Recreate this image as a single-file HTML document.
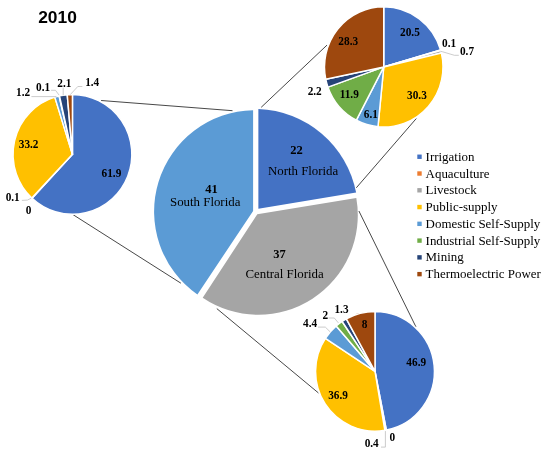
<!DOCTYPE html>
<html><head><meta charset="utf-8"><title>2010</title>
<style>
html,body{margin:0;padding:0;background:#fff;}
body{width:550px;height:454px;overflow:hidden;position:relative;}
svg{position:absolute;left:0;top:0;display:block;}
.b{font-family:"Liberation Serif",serif;font-weight:bold;font-size:11.3px;fill:#000;}
.r{font-family:"Liberation Serif",serif;font-size:12.85px;fill:#000;}
.l{font-family:"Liberation Serif",serif;font-size:12.95px;fill:#000;}
.g{font-family:"Liberation Serif",serif;font-weight:bold;font-size:12.5px;fill:#000;}
.t{font-family:"Liberation Sans",sans-serif;font-weight:bold;font-size:17.4px;fill:#000;}
</style></head><body>
<svg width="550" height="454" viewBox="0 0 550 454">
<text x="38.2" y="23.4" class="t">2010</text>
<path d="M258.4 208.7L258.4 109.1A103.46 103.46 0 0 1 356.1 192.6Z" fill="#4472C4"/>
<path d="M257.3 214.2L356.3 198.1A99.5 99.5 0 0 1 202.7 297.8Z" fill="#A5A5A5"/>
<path d="M253.1 210.9L197.4 294.5A101.28 101.28 0 0 1 253.1 110.2Z" fill="#5B9BD5"/>
<line x1="101.1" y1="100.5" x2="232.5" y2="110.7" stroke="#484848" stroke-width="1"/>
<line x1="73.1" y1="214.7" x2="180.9" y2="283.2" stroke="#484848" stroke-width="1"/>
<line x1="216.8" y1="308.6" x2="318.5" y2="393.0" stroke="#484848" stroke-width="1"/>
<line x1="261.2" y1="107.3" x2="327.0" y2="45.1" stroke="#484848" stroke-width="1"/>
<line x1="356.3" y1="187.8" x2="416.3" y2="118.5" stroke="#484848" stroke-width="1"/>
<line x1="358.9" y1="211" x2="416.0" y2="327.0" stroke="#484848" stroke-width="1"/>
<g transform="translate(72.45,154.35) scale(0.9917,1) translate(-72.45,-154.35)">
<path d="M72.45 154.35L72.45 94.45A59.90 59.90 0 1 1 31.72 198.27Z" fill="#4472C4" stroke="#fff" stroke-width="1.5" stroke-linejoin="round"/>
<path d="M72.45 154.35L31.72 198.27A59.90 59.90 0 0 1 31.45 198.02Z" fill="#A5A5A5" stroke="#fff" stroke-width="1.5" stroke-linejoin="round"/>
<path d="M72.45 154.35L31.45 198.02A59.90 59.90 0 0 1 54.66 97.15Z" fill="#FFC000" stroke="#fff" stroke-width="1.5" stroke-linejoin="round"/>
<path d="M72.45 154.35L54.66 97.15A59.90 59.90 0 0 1 59.02 95.98Z" fill="#5B9BD5" stroke="#fff" stroke-width="1.5" stroke-linejoin="round"/>
<path d="M72.45 154.35L59.02 95.98A59.90 59.90 0 0 1 59.38 95.89Z" fill="#70AD47" stroke="#fff" stroke-width="1.5" stroke-linejoin="round"/>
<path d="M72.45 154.35L59.38 95.89A59.90 59.90 0 0 1 67.19 94.68Z" fill="#264478" stroke="#fff" stroke-width="1.5" stroke-linejoin="round"/>
<path d="M72.45 154.35L67.19 94.68A59.90 59.90 0 0 1 72.45 94.45Z" fill="#9E480E" stroke="#fff" stroke-width="1.5" stroke-linejoin="round"/>
</g>
<g transform="translate(383.75,66.9) scale(0.9859,1) translate(-383.75,-66.9)">
<path d="M383.75 66.90L383.75 6.80A60.10 60.10 0 0 1 441.44 50.06Z" fill="#4472C4" stroke="#fff" stroke-width="1.5" stroke-linejoin="round"/>
<path d="M383.75 66.90L441.44 50.06A60.10 60.10 0 0 1 441.55 50.42Z" fill="#ED7D31" stroke="#fff" stroke-width="1.5" stroke-linejoin="round"/>
<path d="M383.75 66.90L441.55 50.42A60.10 60.10 0 0 1 442.21 52.98Z" fill="#A5A5A5" stroke="#fff" stroke-width="1.5" stroke-linejoin="round"/>
<path d="M383.75 66.90L442.21 52.98A60.10 60.10 0 0 1 377.91 126.72Z" fill="#FFC000" stroke="#fff" stroke-width="1.5" stroke-linejoin="round"/>
<path d="M383.75 66.90L377.91 126.72A60.10 60.10 0 0 1 355.99 120.20Z" fill="#5B9BD5" stroke="#fff" stroke-width="1.5" stroke-linejoin="round"/>
<path d="M383.75 66.90L355.99 120.20A60.10 60.10 0 0 1 327.16 87.15Z" fill="#70AD47" stroke="#fff" stroke-width="1.5" stroke-linejoin="round"/>
<path d="M383.75 66.90L327.16 87.15A60.10 60.10 0 0 1 324.92 79.17Z" fill="#264478" stroke="#fff" stroke-width="1.5" stroke-linejoin="round"/>
<path d="M383.75 66.90L324.92 79.17A60.10 60.10 0 0 1 383.75 6.80Z" fill="#9E480E" stroke="#fff" stroke-width="1.5" stroke-linejoin="round"/>
</g>
<g transform="translate(375.0,371.35) scale(0.9941,1) translate(-375.0,-371.35)">
<path d="M375.00 371.35L375.00 311.55A59.80 59.80 0 0 1 386.40 430.05Z" fill="#4472C4" stroke="#fff" stroke-width="1.5" stroke-linejoin="round"/>
<path d="M375.00 371.35L386.40 430.05A59.80 59.80 0 0 1 384.92 430.32Z" fill="#A5A5A5" stroke="#fff" stroke-width="1.5" stroke-linejoin="round"/>
<path d="M375.00 371.35L384.92 430.32A59.80 59.80 0 0 1 325.09 338.41Z" fill="#FFC000" stroke="#fff" stroke-width="1.5" stroke-linejoin="round"/>
<path d="M375.00 371.35L325.09 338.41A59.80 59.80 0 0 1 335.99 326.03Z" fill="#5B9BD5" stroke="#fff" stroke-width="1.5" stroke-linejoin="round"/>
<path d="M375.00 371.35L335.99 326.03A59.80 59.80 0 0 1 341.98 321.49Z" fill="#70AD47" stroke="#fff" stroke-width="1.5" stroke-linejoin="round"/>
<path d="M375.00 371.35L341.98 321.49A59.80 59.80 0 0 1 346.16 318.96Z" fill="#264478" stroke="#fff" stroke-width="1.5" stroke-linejoin="round"/>
<path d="M375.00 371.35L346.16 318.96A59.80 59.80 0 0 1 375.00 311.55Z" fill="#9E480E" stroke="#fff" stroke-width="1.5" stroke-linejoin="round"/>
</g>
<text transform="translate(101.55,177.00) scale(1,1.05)" text-anchor="start" class="b">61.9</text>
<text transform="translate(18.75,148.20) scale(1,1.05)" text-anchor="start" class="b">33.2</text>
<text transform="translate(16.05,96.00) scale(1,1.05)" text-anchor="start" class="b">1.2</text>
<text transform="translate(36.05,90.50) scale(1,1.05)" text-anchor="start" class="b">0.1</text>
<text transform="translate(57.25,86.80) scale(1,1.05)" text-anchor="start" class="b">2.1</text>
<text transform="translate(85.15,86.30) scale(1,1.05)" text-anchor="start" class="b">1.4</text>
<text transform="translate(5.65,200.50) scale(1,1.05)" text-anchor="start" class="b">0.1</text>
<text transform="translate(25.65,214.10) scale(1,1.05)" text-anchor="start" class="b">0</text>
<polyline points="21.9,200.4 27.4,200.1 31.2,198.2" fill="none" stroke="#BFBFBF" stroke-width="0.8"/>
<polyline points="31.4,96.6 56.2,96.6 56.9,97.4" fill="none" stroke="#BFBFBF" stroke-width="0.8"/>
<polyline points="51.1,90.3 55.5,90.3 59.1,95.1" fill="none" stroke="#BFBFBF" stroke-width="0.8"/>
<polyline points="63.2,87.7 63.2,95.4" fill="none" stroke="#BFBFBF" stroke-width="0.8"/>
<polyline points="82.3,86.5 77.8,86.5 70.2,94.7" fill="none" stroke="#BFBFBF" stroke-width="0.8"/>
<text x="296.4" y="154.4" text-anchor="middle" class="g">22</text>
<text x="303.1" y="174.5" text-anchor="middle" class="r">North Florida</text>
<text x="211.4" y="192.8" text-anchor="middle" class="g">41</text>
<text x="205.2" y="206.2" text-anchor="middle" class="r">South Florida</text>
<text x="279.5" y="257.7" text-anchor="middle" class="g">37</text>
<text x="284.6" y="277.7" text-anchor="middle" class="r">Central Florida</text>
<text transform="translate(400.05,35.80) scale(1,1.05)" text-anchor="start" class="b">20.5</text>
<text transform="translate(338.35,44.50) scale(1,1.05)" text-anchor="start" class="b">28.3</text>
<text transform="translate(407.05,98.70) scale(1,1.05)" text-anchor="start" class="b">30.3</text>
<text transform="translate(339.65,98.30) scale(1,1.05)" text-anchor="start" class="b">11.9</text>
<text transform="translate(363.75,117.50) scale(1,1.05)" text-anchor="start" class="b">6.1</text>
<text transform="translate(307.65,94.80) scale(1,1.05)" text-anchor="start" class="b">2.2</text>
<text transform="translate(442.05,46.60) scale(1,1.05)" text-anchor="start" class="b">0.1</text>
<text transform="translate(459.95,54.50) scale(1,1.05)" text-anchor="start" class="b">0.7</text>
<polyline points="440.4,51.3 442.3,51.7 454.4,55.3 458.8,55.3" fill="none" stroke="#BFBFBF" stroke-width="0.8"/>
<text transform="translate(406.35,366.30) scale(1,1.05)" text-anchor="start" class="b">46.9</text>
<text transform="translate(328.15,399.40) scale(1,1.05)" text-anchor="start" class="b">36.9</text>
<text transform="translate(361.85,327.60) scale(1,1.05)" text-anchor="start" class="b">8</text>
<text transform="translate(334.45,312.70) scale(1,1.05)" text-anchor="start" class="b">1.3</text>
<text transform="translate(322.45,318.50) scale(1,1.05)" text-anchor="start" class="b">2</text>
<text transform="translate(303.05,326.70) scale(1,1.05)" text-anchor="start" class="b">4.4</text>
<text transform="translate(389.45,440.70) scale(1,1.05)" text-anchor="start" class="b">0</text>
<text transform="translate(364.65,447.20) scale(1,1.05)" text-anchor="start" class="b">0.4</text>
<polyline points="381,447.1 385.4,447.1 385.4,431.1" fill="none" stroke="#BFBFBF" stroke-width="0.8"/>
<polyline points="318,327.1 325.3,327.1 330.2,331.9" fill="none" stroke="#BFBFBF" stroke-width="0.8"/>
<polyline points="328.6,318 334.3,318 338.4,322.9" fill="none" stroke="#BFBFBF" stroke-width="0.8"/>
<rect x="417.3" y="154.55" width="4.4" height="4.4" fill="#4472C4"/>
<text x="425.6" y="160.75" class="l">Irrigation</text>
<rect x="417.3" y="171.32" width="4.4" height="4.4" fill="#ED7D31"/>
<text x="425.6" y="177.52" class="l">Aquaculture</text>
<rect x="417.3" y="188.09" width="4.4" height="4.4" fill="#A5A5A5"/>
<text x="425.6" y="194.29" class="l">Livestock</text>
<rect x="417.3" y="204.86" width="4.4" height="4.4" fill="#FFC000"/>
<text x="425.6" y="211.06" class="l">Public-supply</text>
<rect x="417.3" y="221.63" width="4.4" height="4.4" fill="#5B9BD5"/>
<text x="425.6" y="227.83" class="l">Domestic Self-Supply</text>
<rect x="417.3" y="238.40" width="4.4" height="4.4" fill="#70AD47"/>
<text x="425.6" y="244.60" class="l">Industrial Self-Supply</text>
<rect x="417.3" y="255.17" width="4.4" height="4.4" fill="#264478"/>
<text x="425.6" y="261.37" class="l">Mining</text>
<rect x="417.3" y="271.94" width="4.4" height="4.4" fill="#9E480E"/>
<text x="425.6" y="278.14" class="l">Thermoelectric Power</text>
</svg>
</body></html>
